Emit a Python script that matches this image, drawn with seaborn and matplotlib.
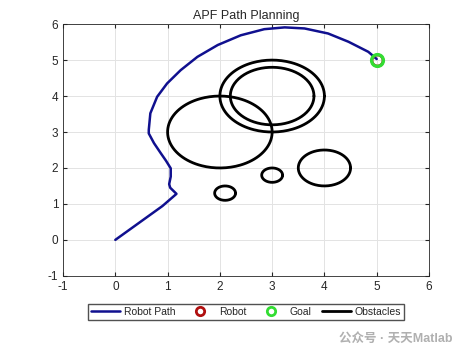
import numpy as np
import pandas as pd
import seaborn as sns
import matplotlib.pyplot as plt
from matplotlib.lines import Line2D

# Robot path
path_x = [0, 0.45, 0.9, 1.17, 1.05, 1.03, 1.06, 1.06, 0.97, 0.87, 0.74, 0.64, 0.64, 0.67,
          0.80, 0.99, 1.25, 1.57, 1.96, 2.40, 2.85, 3.24, 3.62, 4.07, 4.46, 4.84, 5.0]
path_y = [0, 0.47, 0.94, 1.28, 1.45, 1.55, 1.76, 1.99, 2.20, 2.41, 2.69, 2.96, 3.06, 3.52,
          3.98, 4.35, 4.72, 5.09, 5.42, 5.69, 5.86, 5.91, 5.88, 5.74, 5.51, 5.23, 5.03]

# obstacles: centre and radius
obs_x = [2.0, 3.0, 3.0, 4.0, 3.0, 2.1]
obs_y = [3.0, 4.0, 4.0, 2.0, 1.8, 1.3]
obs_r = [1.0, 1.0, 0.8, 0.5, 0.2, 0.2]

robot_pos = (5.0, 5.0)
goal_pos = (5.0, 5.0)

sns.set_style("whitegrid")
plt.rcParams['font.family'] = ['Liberation Sans', 'Noto Sans CJK SC', 'DejaVu Sans']
plt.rcParams['axes.unicode_minus'] = False

fig = plt.figure(figsize=(4.74, 3.55), dpi=100)
ax = fig.add_axes([0.133, 0.223, 0.772, 0.709])

t = np.linspace(0, 2 * np.pi, 200)
rows = []
for i, (cx, cy, r) in enumerate(zip(obs_x, obs_y, obs_r)):
    for tt in t:
        rows.append({'x': cx + r * np.cos(tt), 'y': cy + r * np.sin(tt), 'obs': i})
df_obs = pd.DataFrame(rows)
sns.lineplot(data=df_obs, x='x', y='y', units='obs', estimator=None, sort=False,
             color='black', lw=2, ax=ax)

df_path = pd.DataFrame({'x': path_x, 'y': path_y})
sns.lineplot(data=df_path, x='x', y='y', estimator=None, sort=False,
             color='#10108f', lw=1.8, ax=ax)

ax.plot(*robot_pos, 'o', mfc='none', mec='#b01010', mew=2, ms=8)
ax.plot(*goal_pos, 'o', mfc='none', mec='#33dd33', mew=2.4, ms=8.5)

ax.set_xlim(-1, 6)
ax.set_ylim(-1, 6)
ax.set_xticks(range(-1, 7))
ax.set_yticks(range(-1, 7))
ax.set_xlabel('')
ax.set_ylabel('')
ax.tick_params(labelsize=8.5, colors='#262626', direction='in', length=3,
               top=True, right=True, bottom=True, left=True)
ax.grid(color='#e3e3e3', lw=0.7)
for s in ax.spines.values():
    s.set_color('#262626')
    s.set_linewidth(0.6)
ax.set_title('APF Path Planning', fontsize=9, pad=4)

handles = [
    Line2D([], [], color='#10108f', lw=1.8),
    Line2D([], [], ls='none', marker='o', mfc='none', mec='#b01010', mew=2, ms=6),
    Line2D([], [], ls='none', marker='o', mfc='none', mec='#33dd33', mew=2, ms=6),
    Line2D([], [], color='black', lw=2),
]
labels = ['Robot Path', 'Robot', 'Goal', 'Obstacles']
fig.legend(handles, labels, loc='center', bbox_to_anchor=(0.519, 0.121), ncol=4,
           fontsize=7.5, frameon=True, fancybox=False, edgecolor='#262626',
           handlelength=2.8, columnspacing=1.0, handletextpad=0.35, borderpad=0.3)

fig.text(0.955, 0.045, '公众号 · 天天Matlab', fontsize=9, color='#b0b0b0', ha='right',
         va='center', fontweight='bold')

fig.savefig('out.png', dpi=100)
